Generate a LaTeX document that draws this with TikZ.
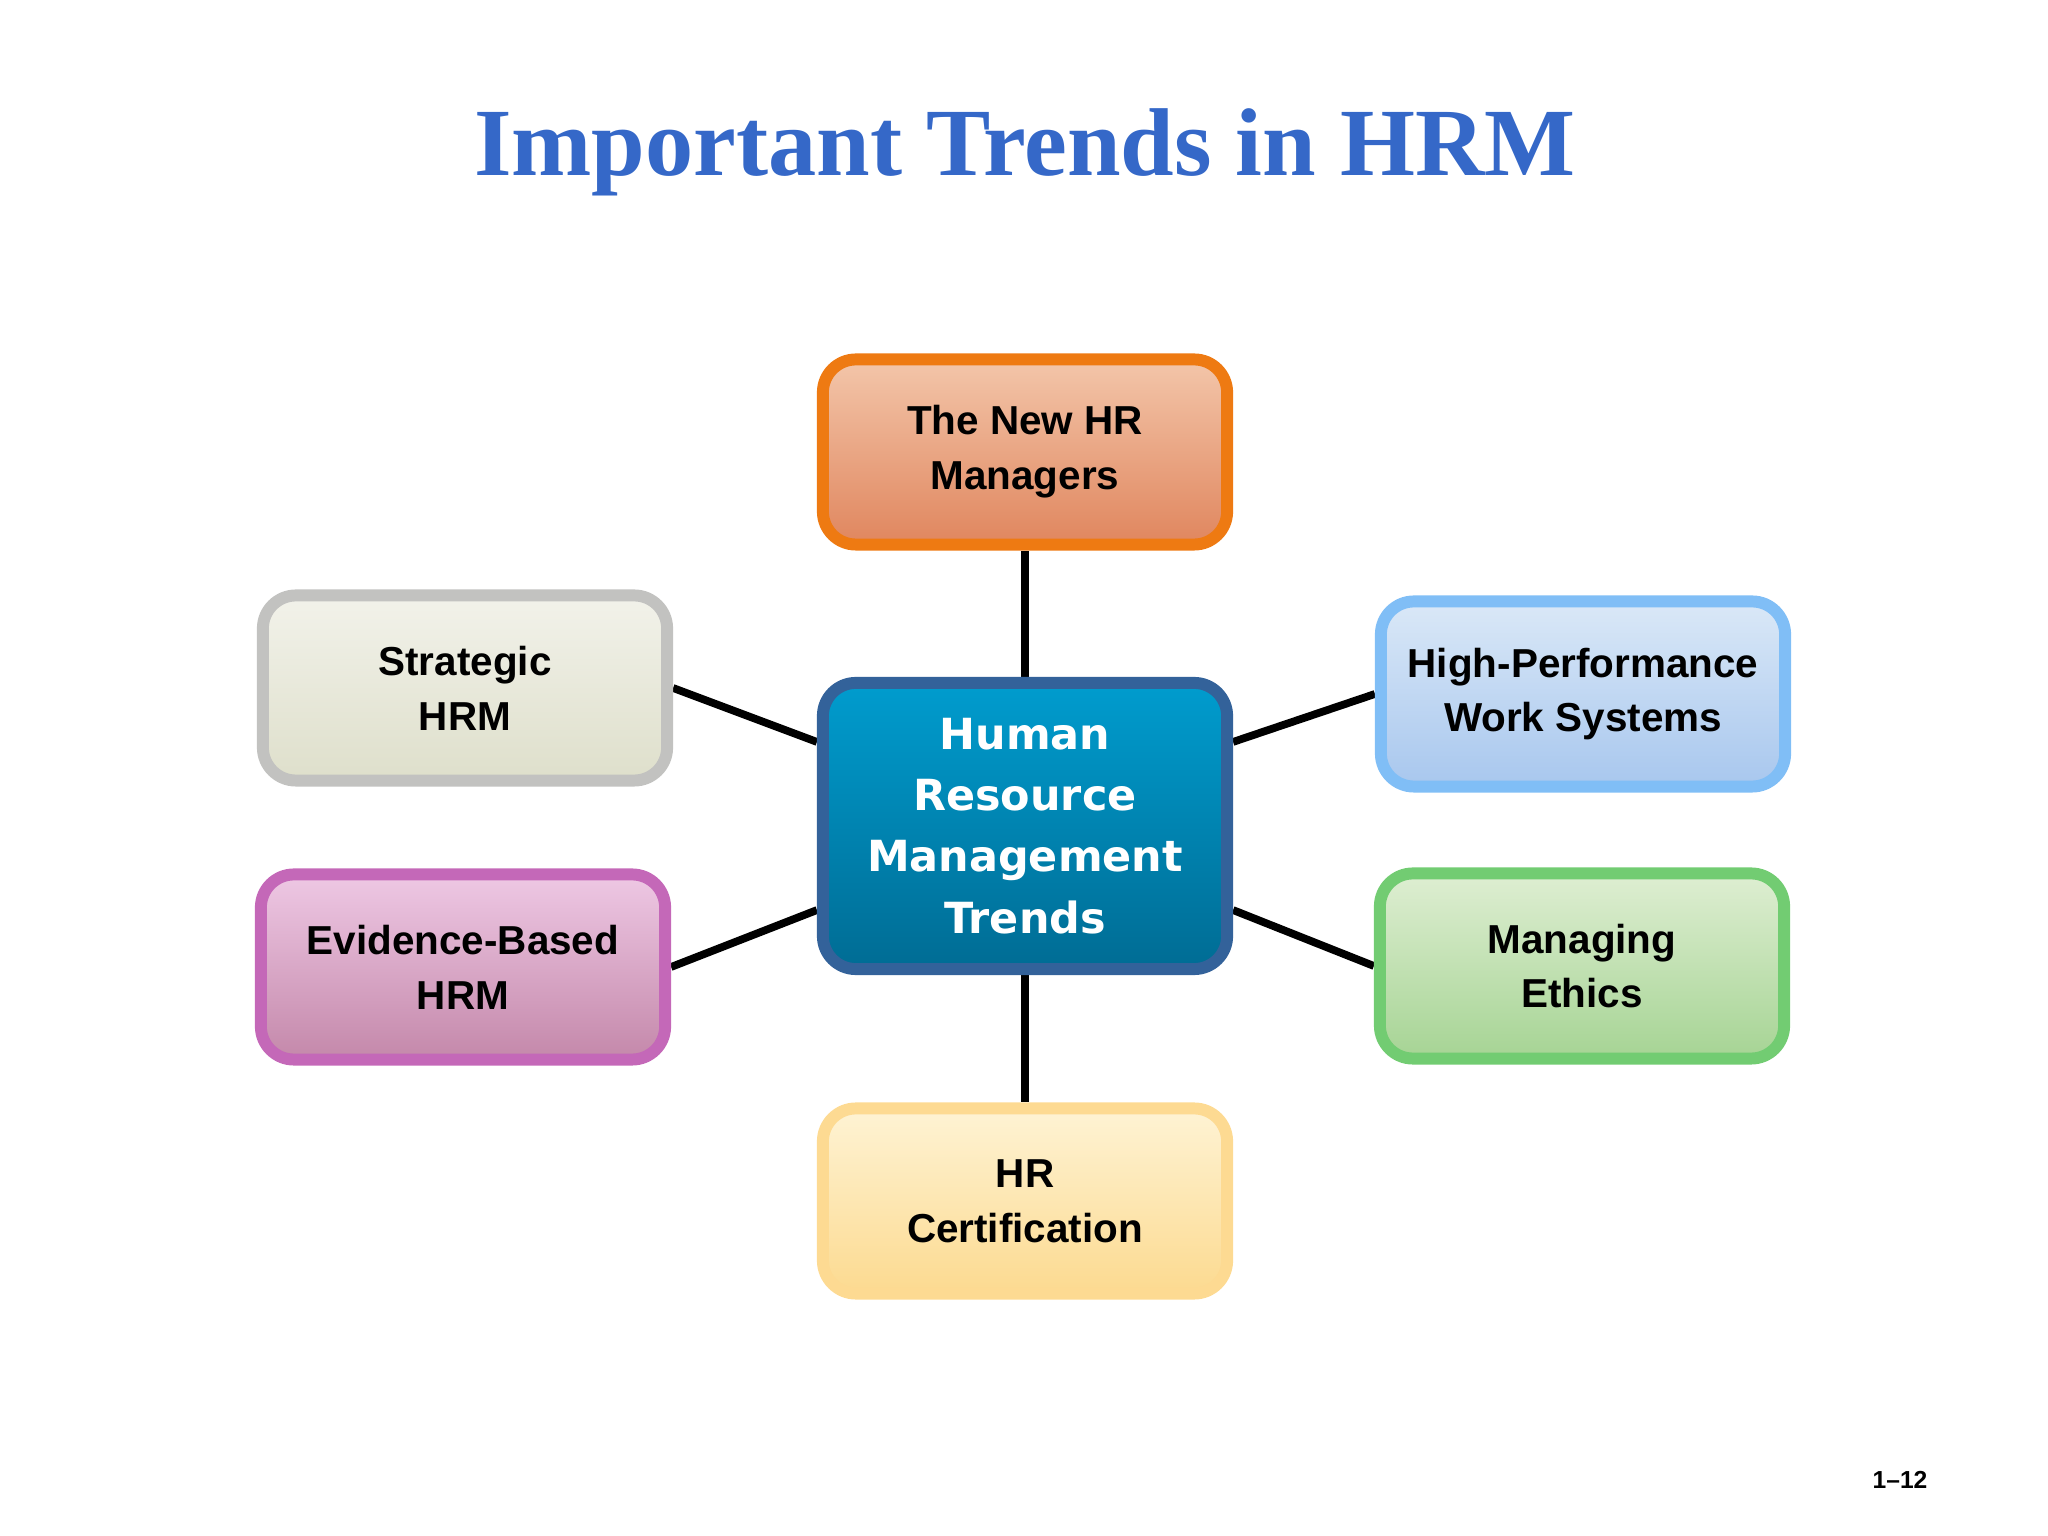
\documentclass[tikz,border=0pt]{standalone}
\usepackage{fontspec}
\setmainfont{Liberation Serif}
\setsansfont{Liberation Sans}
\newfontfamily\hubfont{DejaVu Sans}
\usetikzlibrary{backgrounds}
%
\definecolor{titleblue}{HTML}{3568C8}
\definecolor{hrmedge}{HTML}{33629A}
\definecolor{newedge}{HTML}{EE7A12}
\definecolor{stratedge}{HTML}{C2C2C0}
\definecolor{evidedge}{HTML}{C468B8}
\definecolor{hpwsedge}{HTML}{80BEF6}
\definecolor{ethedge}{HTML}{72CC72}
\definecolor{certedge}{HTML}{FDDA92}
%
\tikzset{
  trend/.style={draw, rounded corners=0.33cm, line width=3.4pt, inner sep=0pt,
    minimum width=4.04cm, minimum height=1.85cm, align=center,
    font=\sffamily\bfseries\fontsize{11.5}{15.6}\selectfont},
  spoke/.style={line width=2.2pt, black},
}
\begin{document}
\begin{tikzpicture}[x=0.01cm,y=0.01cm]
\useasboundingbox (0,0) rectangle (2048,1536);
%%
\newcommand{\trendnode}[5]{\node[trend, draw=#2edge, top color=#3, bottom color=#4] (#2) at #1 {#5};}
%%
\node[font=\bfseries\fontsize{27.4}{32}\selectfont, text=titleblue, anchor=base] (title) at (1025,1360) {Important Trends in HRM};
%
\node[trend, draw=hrmedge, top color={rgb,255:red,0;green,156;blue,206}, bottom color={rgb,255:red,0;green,108;blue,148},
  minimum height=2.86cm, text=white, font=\hubfont\bfseries\fontsize{12.2}{17.4}\selectfont] (hrm) at (1025,710)
  {Human\\Resource\\Management\\Trends};
%
\trendnode{(1025,1084)}{new}{{rgb,255:red,243;green,198;blue,170}}{{rgb,255:red,224;green,134;blue,94}}{The New HR\\Managers}
\trendnode{(465,848)}{strat}{{rgb,255:red,242;green,242;blue,234}}{{rgb,255:red,222;green,223;blue,203}}{Strategic\\HRM}
\trendnode{(463,569)}{evid}{{rgb,255:red,238;green,200;blue,228}}{{rgb,255:red,196;green,136;blue,170}}{Evidence-Based\\HRM}
\trendnode{(1583,842)}{hpws}{{rgb,255:red,218;green,232;blue,247}}{{rgb,255:red,168;green,199;blue,238}}{High-Performance\\Work Systems}
\trendnode{(1582,570)}{eth}{{rgb,255:red,222;green,238;blue,210}}{{rgb,255:red,166;green,212;blue,148}}{Managing\\Ethics}
\trendnode{(1025,335)}{cert}{{rgb,255:red,254;green,243;blue,212}}{{rgb,255:red,252;green,218;blue,144}}{HR\\Certification}
%
\node[font=\sffamily\bfseries\fontsize{7}{8}\selectfont] (slide) at (1900,56) {1--12};
%
\begin{scope}[on background layer]
\draw[spoke] (hrm.north) -- (new.south);
\draw[spoke] (hrm.south) -- (cert.north);
\draw[spoke] (hrm.158) -- (strat.east);
\draw[spoke] (hrm.202) -- (evid.east);
\draw[spoke] (hrm.22) -- (hpws.west);
\draw[spoke] (hrm.-22) -- (eth.west);
\end{scope}
\end{tikzpicture}
\end{document}
